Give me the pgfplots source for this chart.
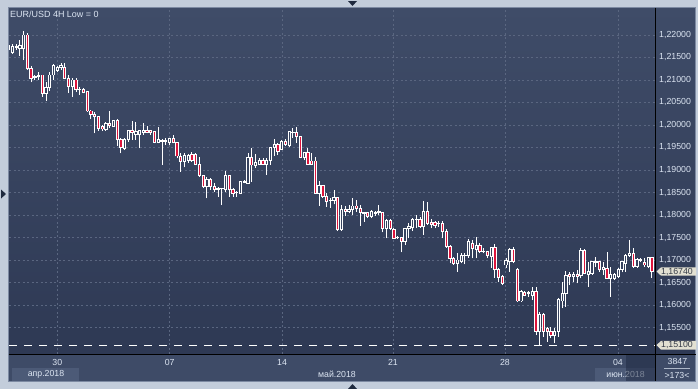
\documentclass[border=0pt]{standalone}
\usepackage{fontspec}
\setmainfont{Liberation Sans}
\usepackage{pgfplots}
\usepackage{pgfplotstable}
\pgfplotsset{compat=1.18}
\definecolor{framec}{HTML}{C3CDDB}
\definecolor{bgtop}{HTML}{3F4C68}
\definecolor{bgbot}{HTML}{2E3954}
\definecolor{panel}{HTML}{3E4B67}
\definecolor{gridc}{HTML}{5A6680}
\definecolor{labc}{HTML}{DCE5F2}
\definecolor{tagc}{HTML}{E2E0D2}
\definecolor{tagtext}{HTML}{363C48}
\definecolor{bearc}{HTML}{DC143C}
\definecolor{bullin}{HTML}{37435F}
\definecolor{monthbox}{HTML}{4C5A77}
\definecolor{edgec}{HTML}{7D8AA2}
\definecolor{overc}{HTML}{1E2840}
\definecolor{tric}{HTML}{1F2A3F}
\newcommand\lab{\fontsize{8.8}{10}\selectfont}
\pgfplotsset{candle/.style={draw=none, mark=none, forget plot,
  error bars/.cd, y dir=plus, y explicit, error mark=none,
  error mark options={draw=none, fill=none, mark size=0pt}}}
\pgfplotstableread{
i o h l c
0 1.21667 1.21844 1.21600 1.21756
1 1.21611 1.21800 1.21578 1.21740
2 1.21733 1.21793 1.21667 1.21744
3 1.21704 1.21889 1.21540 1.21756
4 1.21689 1.22096 1.21444 1.22000
5 1.22000 1.22038 1.21222 1.21260
6 1.21260 1.21318 1.20949 1.21038
7 1.21051 1.21111 1.21000 1.21067
8 1.21078 1.21184 1.21000 1.21089
9 1.21111 1.21122 1.20629 1.20704
10 1.20704 1.20962 1.20540 1.20844
11 1.20844 1.21184 1.20756 1.21111
12 1.21111 1.21349 1.21000 1.21318
13 1.21222 1.21318 1.21171 1.21282
14 1.21273 1.21371 1.21222 1.21318
15 1.21282 1.21384 1.21022 1.21038
16 1.21038 1.21111 1.20711 1.20860
17 1.20851 1.21038 1.20629 1.21000
18 1.21000 1.21038 1.20740 1.20778
19 1.20784 1.20851 1.20667 1.20800
20 1.20793 1.20816 1.20704 1.20727
21 1.20740 1.20756 1.20296 1.20311
22 1.20311 1.20333 1.20133 1.20238
23 1.20238 1.20282 1.19816 1.20178
24 1.20178 1.20189 1.19867 1.19927
25 1.19962 1.20000 1.19867 1.19911
26 1.19904 1.20060 1.19867 1.20038
27 1.20038 1.20311 1.19927 1.19978
28 1.19962 1.20111 1.19956 1.20096
29 1.20096 1.20127 1.19533 1.19667
30 1.19667 1.19704 1.19371 1.19500
31 1.19482 1.19704 1.19444 1.19667
32 1.19667 1.19889 1.19629 1.19878
33 1.19878 1.20089 1.19667 1.19838
34 1.19793 1.20060 1.19667 1.19851
35 1.19778 1.19882 1.19482 1.19867
36 1.19838 1.20038 1.19778 1.19882
37 1.19878 1.19978 1.19816 1.19838
38 1.19867 1.19882 1.19778 1.19833
39 1.19851 1.19867 1.19593 1.19616
40 1.19616 1.19949 1.19593 1.19667
41 1.19644 1.19689 1.19111 1.19656
42 1.19644 1.19704 1.19556 1.19656
43 1.19616 1.19718 1.19556 1.19704
44 1.19704 1.19778 1.19593 1.19616
45 1.19616 1.19622 1.19260 1.19311
46 1.19311 1.19371 1.18962 1.19193
47 1.19193 1.19371 1.19060 1.19327
48 1.19207 1.19349 1.19156 1.19318
49 1.19349 1.19407 1.19178 1.19207
50 1.19349 1.19378 1.19127 1.19133
51 1.19133 1.19296 1.18851 1.18873
52 1.18873 1.18889 1.18593 1.18629
53 1.18629 1.18851 1.18371 1.18778
54 1.18778 1.18816 1.18556 1.18629
55 1.18629 1.18704 1.18518 1.18556
56 1.18571 1.18629 1.18407 1.18578
57 1.18578 1.18607 1.18222 1.18589
58 1.18556 1.18984 1.18518 1.18867
59 1.18867 1.18889 1.18407 1.18556
60 1.18556 1.18593 1.18407 1.18482
61 1.18489 1.18533 1.18407 1.18500
62 1.18482 1.18756 1.18460 1.18740
63 1.18733 1.18778 1.18704 1.18744
64 1.18704 1.19384 1.18689 1.19273
65 1.19273 1.19482 1.18740 1.19111
66 1.19096 1.19349 1.19051 1.19162
67 1.19133 1.19260 1.19111 1.19222
68 1.19222 1.19260 1.19111 1.19133
69 1.19133 1.19260 1.18889 1.19222
70 1.19222 1.19518 1.19111 1.19504
71 1.19504 1.19689 1.19318 1.19571
72 1.19571 1.19593 1.19333 1.19422
73 1.19460 1.19667 1.19460 1.19644
74 1.19644 1.19689 1.19540 1.19571
75 1.19540 1.19873 1.19518 1.19851
76 1.19833 1.19927 1.19718 1.19844
77 1.19838 1.19949 1.19607 1.19740
78 1.19740 1.19762 1.19260 1.19273
79 1.19273 1.19407 1.19222 1.19384
80 1.19384 1.19482 1.19111 1.19133
81 1.19200 1.19371 1.19111 1.19133
82 1.19200 1.19296 1.18467 1.18482
83 1.18482 1.18756 1.18207 1.18651
84 1.18651 1.18667 1.18371 1.18407
85 1.18407 1.18482 1.18184 1.18296
86 1.18322 1.18371 1.18162 1.18333
87 1.18333 1.18556 1.18238 1.18384
88 1.18393 1.18407 1.17644 1.17667
89 1.17667 1.18222 1.17644 1.18127
90 1.18127 1.18207 1.17984 1.18073
91 1.18073 1.18222 1.18038 1.18127
92 1.18127 1.18371 1.18000 1.18200
93 1.18200 1.18333 1.18073 1.18149
94 1.18149 1.18222 1.17762 1.18051
95 1.18044 1.18073 1.17851 1.18056
96 1.18060 1.18073 1.17927 1.17962
97 1.17962 1.18111 1.17927 1.18073
98 1.18044 1.18096 1.17984 1.18056
99 1.18056 1.18222 1.18000 1.18067
100 1.18060 1.18073 1.17616 1.17704
101 1.17704 1.17911 1.17482 1.17867
102 1.17867 1.17911 1.17667 1.17704
103 1.17682 1.17704 1.17467 1.17482
104 1.17489 1.17540 1.17467 1.17500
105 1.17496 1.17518 1.17171 1.17407
106 1.17407 1.17718 1.17333 1.17704
107 1.17704 1.17816 1.17482 1.17740
108 1.17718 1.17940 1.17644 1.17911
109 1.17889 1.18000 1.17704 1.17911
110 1.17911 1.17962 1.17718 1.17740
111 1.17740 1.18311 1.17556 1.18073
112 1.18073 1.18282 1.17778 1.17816
113 1.17838 1.17911 1.17704 1.17793
114 1.17838 1.17867 1.17704 1.17762
115 1.17807 1.17867 1.17740 1.17822
116 1.17816 1.17867 1.17482 1.17629
117 1.17644 1.17689 1.17267 1.17296
118 1.17296 1.17333 1.16927 1.17038
119 1.17038 1.17073 1.16889 1.16927
120 1.16927 1.17149 1.16740 1.17000
121 1.16962 1.17149 1.16927 1.17096
122 1.17089 1.17149 1.16904 1.17100
123 1.17096 1.17467 1.17051 1.17407
124 1.17371 1.17444 1.17038 1.17260
125 1.17244 1.17518 1.17038 1.17318
126 1.17318 1.17371 1.17149 1.17184
127 1.17178 1.17260 1.17149 1.17189
128 1.17184 1.17200 1.17038 1.17096
129 1.17073 1.17296 1.16829 1.17273
130 1.17273 1.17349 1.16607 1.16778
131 1.16778 1.16816 1.16504 1.16616
132 1.16629 1.16667 1.16444 1.16482
133 1.16889 1.17038 1.16829 1.16978
134 1.16962 1.17260 1.16740 1.17244
135 1.17244 1.17296 1.16927 1.16962
136 1.16778 1.16816 1.16073 1.16089
137 1.16089 1.16333 1.16073 1.16296
138 1.16273 1.16311 1.16207 1.16222
139 1.16260 1.16311 1.16184 1.16282
140 1.16207 1.16407 1.16111 1.16311
141 1.16296 1.16407 1.15333 1.15422
142 1.15422 1.15838 1.15100 1.15778
143 1.15778 1.15816 1.15296 1.15422
144 1.15467 1.15511 1.15184 1.15407
145 1.15407 1.15518 1.15260 1.15333
146 1.15333 1.15482 1.15149 1.15422
147 1.15407 1.16149 1.15296 1.16133
148 1.16089 1.16504 1.15927 1.16260
149 1.16260 1.16756 1.15962 1.16651
150 1.16682 1.16727 1.16444 1.16629
151 1.16629 1.16740 1.16518 1.16667
152 1.16682 1.16778 1.16482 1.16629
153 1.16651 1.17260 1.16593 1.17222
154 1.17222 1.17244 1.16682 1.16704
155 1.16682 1.16949 1.16407 1.16740
156 1.16696 1.16978 1.16667 1.16962
157 1.16940 1.17073 1.16851 1.16956
158 1.16962 1.16978 1.16740 1.16778
159 1.16778 1.16956 1.16667 1.16844
160 1.16822 1.17184 1.16578 1.16593
161 1.16593 1.16851 1.16184 1.16667
162 1.16593 1.16704 1.16556 1.16667
163 1.16629 1.16816 1.16593 1.16793
164 1.16793 1.16978 1.16727 1.16962
165 1.16927 1.17127 1.16740 1.17111
166 1.17096 1.17444 1.17073 1.17149
167 1.17149 1.17260 1.16829 1.16851
168 1.16851 1.17038 1.16829 1.17022
169 1.16993 1.17038 1.16949 1.17007
170 1.16949 1.17038 1.16851 1.16889
171 1.16851 1.17067 1.16816 1.17051
172 1.17051 1.17073 1.16607 1.16740
}\candles
\begin{document}
\begin{tikzpicture}
\useasboundingbox (0,0) rectangle (698bp,-389bp);
\begin{scope}[x=1bp,y=-1bp]
  \fill[framec] (0,0) rectangle (698,389);
  \shade[top color=bgtop,bottom color=bgbot] (8.5,7.5) rectangle (695.5,354);
  \fill[panel] (8.5,354) rectangle (695.5,381);
  \fill[monthbox] (12,368) rectangle (79,381);
  \fill[monthbox] (595,368) rectangle (655,381);
\end{scope}
\begin{axis}[
  at={(9bp,-354bp)}, anchor=south west,
  scale only axis, width=646bp, height=346bp,
  xmin=0.08, xmax=172.81, ymin=1.149111, ymax=1.226,
  axis line style={draw=none},
  xtick={13,43.05,73.1,102.75,132.7,162.9},
  xticklabels={30,07,14,21,28,04},
  ytick={1.155,1.16,1.165,1.17,1.175,1.18,1.185,1.19,1.195,1.2,1.205,1.21,1.215,1.22},
  scaled y ticks=false,
  yticklabel pos=right,
  major tick length=0pt,
  xmajorgrids, ymajorgrids,
  major grid style={draw=gridc, line width=0.7bp, dash pattern=on 2bp off 2.5bp},
  tick label style={font=\lab, text=labc},
  xticklabel style={anchor=center, inner sep=0pt, yshift=-8bp},
  yticklabel style={anchor=west, inner sep=0pt, xshift=4bp,
     /pgf/number format/fixed, /pgf/number format/fixed zerofill,
     /pgf/number format/precision=5, /pgf/number format/use comma,
     /pgf/number format/assume math mode=true},
]
% wicks
\addplot[candle, error bar style={line width=1bp, draw=white}]
  table[x=i, y=l, y error plus expr={\thisrow{h}-\thisrow{l}}] {\candles};
% body outline
\addplot[candle, error bar style={line width=3.3bp, draw=white}]
  table[x=i, y expr={min(\thisrow{o},\thisrow{c})-0.00011},
        y error plus expr={abs(\thisrow{o}-\thisrow{c})+0.00022}] {\candles};
% bull interior
\addplot[candle, error bar style={line width=1.3bp, draw=bullin}]
  table[x=i, y expr={\thisrow{o}+0.00011},
        y error plus expr={max(\thisrow{c}-\thisrow{o}-0.00022,0)}] {\candles};
% bear interior
\addplot[candle, error bar style={line width=1.3bp, draw=bearc}]
  table[x=i, y expr={\thisrow{c}+0.00011},
        y error plus expr={max(\thisrow{o}-\thisrow{c}-0.00022,0)}] {\candles};
% period low line
\addplot[draw=white, line width=1bp, dash pattern=on 8bp off 7bp] coordinates {(0.08,1.151) (172.81,1.151)};
\end{axis}
\begin{scope}[x=1bp,y=-1bp]
  \draw[edgec, line width=1bp] (8,7.5) rectangle (695.5,381.5);
  \draw[black, line width=1bp] (655,7.5) -- (655,381);
  \draw[black, line width=1bp] (8.5,354) -- (695.5,354);
  \node[anchor=west, inner sep=0pt, text=labc, font=\fontsize{9}{10}\selectfont] at (10,14.5) {EUR/USD 4H Low = 0};
  \node[inner sep=0pt, text=labc, font=\lab] at (46,374.5) {апр.2018};
  \node[inner sep=0pt, text=labc, font=\lab] at (337,374.5) {май.2018};
  \node[inner sep=0pt, text=labc, font=\lab] at (625.5,374.5) {июн.2018};
  \fill[overc, fill opacity=0.5] (625.7,354.5) rectangle (654.5,381);
  \node[inner sep=0pt, text=labc, font=\lab] at (677.5,361) {3847};
  \draw[labc!70!panel, line width=0.8bp] (664,368) -- (690,368);
  \node[inner sep=0pt, text=labc, font=\lab] at (677,375.5) {>173<};
  \fill[tagc] (656.5,271.5) -- (661,267.3) -- (696,267.3) -- (696,275.7) -- (661,275.7) -- cycle;
  \node[inner sep=0pt, text=tagtext, font=\lab] at (677,271.5) {1,16740};
  \fill[tagc] (656.5,345.2) -- (661,340.8) -- (696,340.8) -- (696,349.6) -- (661,349.6) -- cycle;
  \node[inner sep=0pt, text=tagtext, font=\lab] at (677,345.2) {1,15100};
  \fill[tric] (348,1) -- (357,1) -- (352.5,6) -- cycle;
  \fill[tric] (348,389) -- (357,389) -- (352.5,384) -- cycle;
  \fill[tric] (1,189.5) -- (1,198.5) -- (6,194) -- cycle;
\end{scope}
\end{tikzpicture}
\end{document}
